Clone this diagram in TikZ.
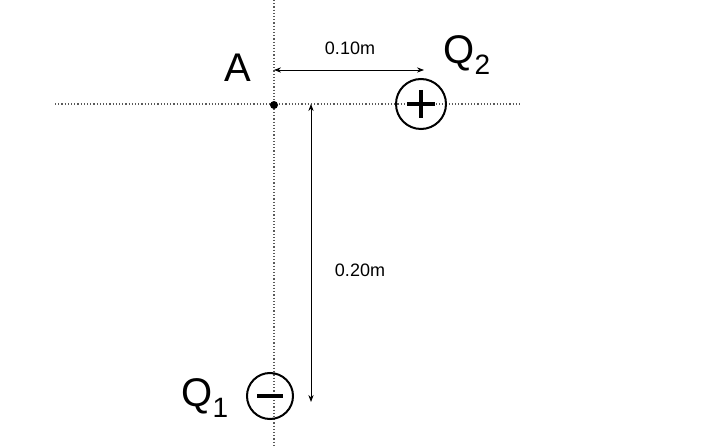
\documentclass[tikz,border=0pt]{standalone}
\usepackage{fontspec}
\setmainfont{Liberation Sans}
\usetikzlibrary{arrows.meta}
\begin{document}
\begin{tikzpicture}[x=1pt,y=-1pt,
  axis/.style={dotted,line width=1.2pt,gray!70!black},
  charge/.style={circle,draw,line width=2pt,minimum size=50pt,inner sep=0pt},
  sign/.style={line width=4.5pt},
  dim/.style={{Stealth[length=7pt]}-{Stealth[length=7pt]},line width=0.8pt},
  lbl/.style={font=\fontsize{40}{40}\selectfont},
  dl/.style={font=\fontsize{18}{18}\selectfont}]
\useasboundingbox (0,0) rectangle (726,446);
\draw[axis] (55,104) -- (520,104);
\draw[axis] (274,0) -- (274,446);
\fill (274,105) circle (4pt);
\coordinate (A) at (274,105);
\node[charge] (q2) at (421,104) {};
\draw[sign] (407,104) -- (435,104) (421,90) -- (421,118);
\node[charge,minimum size=46pt] (q1) at (270,396) {};
\draw[sign] (257,396) -- (283,396);
\node[lbl] (la) at (238,68) {A};
\node[lbl] (lq2) at (467,55) {Q\textsubscript{2}};
\node[lbl] (lq1) at (205,398) {Q\textsubscript{1}};
\coordinate (h1) at (274,70); \coordinate (h2) at (424,70);
\draw[dim] (h1) -- (h2);
\node[dl] (d1) at (350,48) {0.10m};
\coordinate (v1) at (311,104); \coordinate (v2) at (311,402);
\draw[dim] (v1) -- (v2);
\node[dl] (d2) at (360,270) {0.20m};
\end{tikzpicture}
\end{document}
